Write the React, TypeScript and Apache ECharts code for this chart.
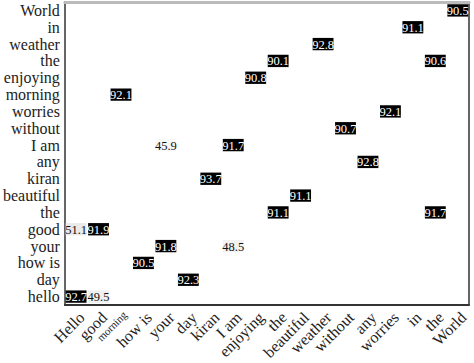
import React, { useEffect, useRef } from "react";
import * as echarts from "echarts";

const xLabels = ["Hello", "good", "morning", "how is", "your", "day", "kiran", "I am", "enjoying", "the", "beautiful", "weather", "without", "any", "worries", "in", "the", "World"];
const yLabels = ["hello", "day", "how is", "your", "good", "the", "beautiful", "kiran", "any", "I am", "without", "worries", "morning", "enjoying", "the", "weather", "in", "World"];

// [x index, y index, value]
const cells: [number, number, number][] = [
  [0, 0, 92.7], [1, 0, 49.5], [0, 4, 51.1], [1, 4, 91.9],
  [2, 12, 92.1], [3, 2, 90.5], [4, 3, 91.8], [5, 1, 92.3],
  [7, 3, 48.5], [4, 9, 45.9], [7, 9, 91.7], [6, 7, 93.7],
  [10, 6, 91.1], [9, 5, 91.1], [16, 5, 91.7], [8, 13, 90.8],
  [9, 14, 90.1], [11, 15, 92.8], [15, 16, 91.1], [16, 14, 90.6],
  [17, 17, 90.5], [14, 11, 92.1], [12, 10, 90.7], [13, 8, 92.8],
];

const FONT = "Liberation Serif";

export default function App() {
  const ref = useRef<HTMLDivElement>(null);
  useEffect(() => {
    if (!ref.current) return;
    const chart = echarts.init(ref.current, null, { renderer: "svg" });
    const fillFor = (v: number) => {
      if (v >= 90) return "#000";
      const g = Math.round(Math.min(255, 255 - (v - 44) * 3));
      return `rgb(${g},${g},${g})`;
    };
    chart.setOption({
      animation: false,
      grid: { left: 62, right: 5, top: 2, bottom: 58 },
      xAxis: [
        {
          type: "category",
          data: xLabels,
          position: "bottom",
          axisLine: { show: true, lineStyle: { color: "#333", width: 2 } },
          axisTick: { show: false },
          splitLine: { show: false },
          axisLabel: {
            rotate: 45,
            interval: 0,
            margin: 4,
            verticalAlign: "top",
            color: "#222",
            fontFamily: FONT,
            fontSize: 16,
            formatter: (val: string, idx: number) => (idx === 2 ? `{s|${val}}` : val),
            rich: { s: { fontSize: 11, fontFamily: FONT, color: "#222" } },
          },
        },
        {
          type: "category",
          data: xLabels,
          position: "top",
          axisLine: { show: true, lineStyle: { color: "#bbb", width: 3 } },
          axisTick: { show: false },
          axisLabel: { show: false },
        },
      ],
      yAxis: [
        {
          type: "category",
          data: yLabels,
          position: "left",
          axisLine: { show: true, lineStyle: { color: "#666", width: 2 } },
          axisTick: { show: false },
          splitLine: { show: false },
          axisLabel: { interval: 0, margin: 5, color: "#222", fontFamily: FONT, fontSize: 16, lineHeight: 16 },
        },
        {
          type: "category",
          data: yLabels,
          position: "right",
          axisLine: { show: true, lineStyle: { color: "#333", width: 1.5 } },
          axisTick: { show: false },
          axisLabel: { show: false },
        },
      ],
      series: [
        {
          type: "custom",
          xAxisIndex: 0,
          yAxisIndex: 0,
          data: cells,
          renderItem: (params: any, api: any) => {
            const xi = api.value(0);
            const yi = api.value(1);
            const v = api.value(2);
            const c = api.coord([xi, yi]);
            const s = api.size([1, 1]);
            const w = s[0] - 1.6;
            const h = s[1] - 4.5;
            return {
              type: "group",
              children: [
                {
                  type: "rect",
                  shape: { x: c[0] - w / 2, y: c[1] - h / 2, width: w, height: h },
                  style: { fill: fillFor(v) },
                },
                {
                  type: "text",
                  x: c[0],
                  y: c[1] + 0.5,
                  style: {
                    text: v.toFixed(1),
                    fill: v >= 90 ? "#fff" : "#111",
                    fontFamily: FONT,
                    fontSize: 12.5,
                    align: "center",
                    verticalAlign: "middle",
                  },
                },
              ],
            };
          },
        },
      ],
    });
    return () => chart.dispose();
  }, []);
  return <div ref={ref} style={{ width: 474, height: 363, position: "absolute", left: 0, top: 0 }} />;
}
